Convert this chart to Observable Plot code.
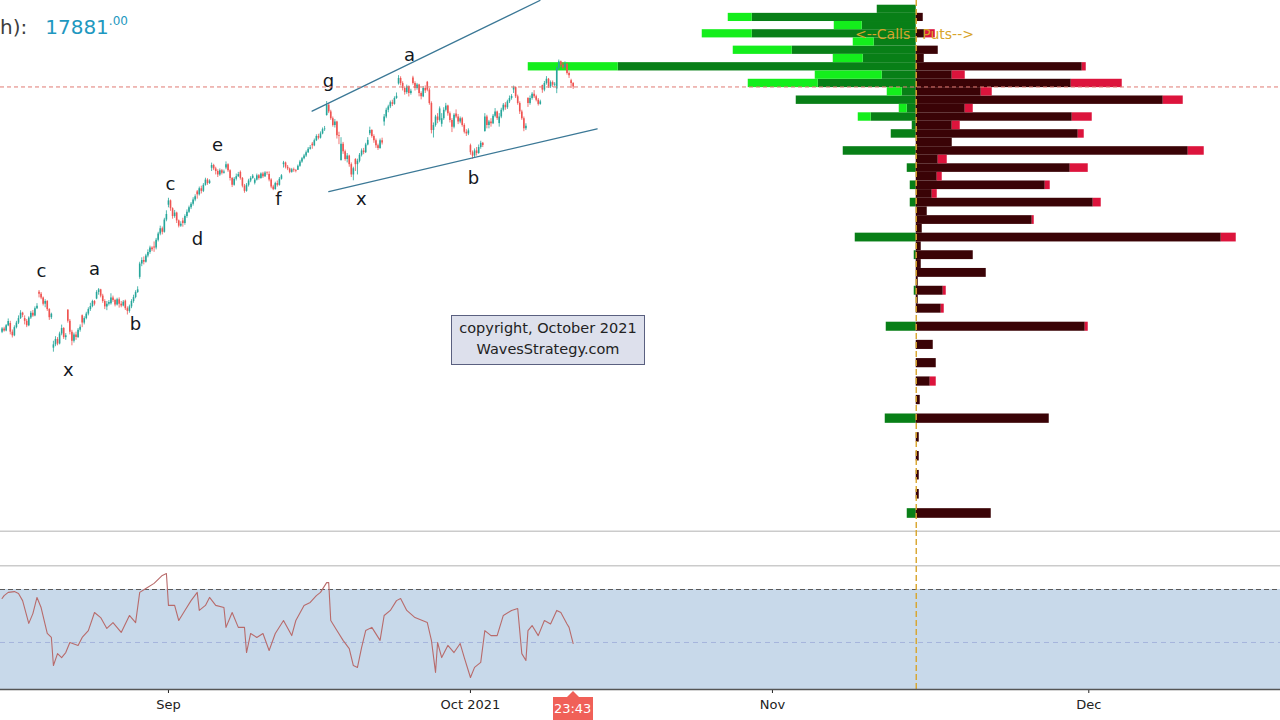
<!DOCTYPE html>
<html><head><meta charset="utf-8">
<script src="https://cdn.jsdelivr.net/npm/d3@7"></script>
<script src="https://cdn.jsdelivr.net/npm/@observablehq/plot@0.6"></script>
<style>
body{margin:0;background:#fff;font-family:"DejaVu Sans",Verdana,sans-serif;}
#wrap{position:relative;width:1280px;height:720px;overflow:hidden;background:#fff}
.layer{position:absolute;left:0}
#title{position:absolute;left:0;top:17px;font-size:20px;line-height:20px;color:#3d3d3d;white-space:nowrap}
#title .v{color:#1e98c0;margin-left:18px}
#title .s{color:#1e98c0;font-size:12px;position:relative;top:-9px}
#copy{position:absolute;left:451px;top:315px;width:192px;height:46px;background:#dde0ec;border:1px solid #5a6080;
 text-align:center;font-size:14.5px;line-height:21px;color:#222;padding-top:2px}
#clock{position:absolute;top:697px;width:40px;height:23px;background:#f06058;color:#fff;font-size:13px;line-height:23px;text-align:center}
#clock:before{content:"";position:absolute;left:14px;top:-6px;border-left:6px solid transparent;border-right:6px solid transparent;border-bottom:6px solid #f06058}
</style></head><body>
<div id="wrap">
 <div id="oi" class="layer" style="top:0"></div>
 <div id="price" class="layer" style="top:0"></div>
 <div id="rsi" class="layer" style="top:530px"></div>
 <div id="title"></div>
 <div id="copy">copyright, October 2021<br>WavesStrategy.com</div>
 <div id="clock"></div>
</div>
<script>
// ---------- data ----------
const titlePrefix = "h):";
const titleValue = 17881;
const clockText = "23:43";
// trading-day index relative to Oct 1 2021 (7 hourly bars per day)
const dayIndex = d3.range(-33, 8);
const firstHour = 3;
const dayOpens = [16470,16518,16545,16691,16382,16592,16561,16654,16627,16642,16775,16947,17185,17095,17262,17399,17401,17375,17312,17363,17420,17387,17540,17709,17443,17450,17601,17670,17897,17932,17907,17657,17718,17531,17615,17661,17861,17810,17887,17867,17916];
const dayCloses = [
[16488,16476,16505,16529],
[16470,16450,16495,16520,16545,16575,16563],
[16530,16505,16548,16575,16560,16600,16614],
[16680,16660,16625,16640,16595,16550,16569],
[16400,16430,16405,16460,16490,16440,16450],
[16530,16470,16420,16455,16440,16480,16497],
[16520,16545,16570,16595,16612,16640,16625],
[16690,16705,16670,16640,16610,16625,16634],
[16660,16645,16620,16650,16625,16615,16636],
[16600,16585,16610,16640,16662,16690,16705],
[16850,16870,16860,16895,16915,16940,16931],
[16940,16985,17020,17050,17030,17100,17132],
[17210,17165,17120,17140,17095,17065,17076],
[17080,17120,17145,17170,17190,17215,17234],
[17245,17280,17265,17300,17330,17310,17324],
[17415,17395,17380,17360,17385,17370,17377],
[17420,17385,17340,17300,17335,17350,17362],
[17340,17295,17265,17300,17325,17340,17353],
[17330,17355,17340,17365,17350,17372,17369],
[17330,17290,17275,17310,17300,17335,17355],
[17430,17405,17395,17375,17390,17385,17380],
[17410,17435,17455,17470,17490,17510,17519],
[17530,17560,17585,17575,17600,17625,17629],
[17770,17730,17690,17650,17670,17590,17585],
[17540,17495,17450,17470,17420,17360,17396],
[17420,17440,17475,17500,17490,17535,17562],
[17620,17585,17560,17530,17515,17560,17546],
[17700,17740,17760,17785,17775,17810,17823],
[17930,17900,17870,17845,17880,17840,17853],
[17900,17870,17890,17840,17820,17870,17855],
[17860,17780,17620,17650,17700,17680,17748],
[17690,17740,17765,17720,17680,17640,17711],
[17700,17670,17690,17650,17610,17600,17618],
[17490,17470,17500,17485,17520,17545,17532],
[17700,17650,17670,17660,17705,17730,17691],
[17700,17740,17770,17755,17790,17810,17822],
[17875,17820,17780,17730,17690,17630,17646],
[17780,17810,17835,17820,17800,17775,17790],
[17860,17900,17925,17880,17905,17890,17895],
[17990,18030,18010,17995,18015,17960,17946],
[17900,17879]];
const dayHighs = [
[16495,16497,16512,16543],
[16530,16482,16505,16530,16560,16589,16580],
[16560,16540,16555,16585,16590,16610,16628],
[16701,16690,16665,16650,16645,16600,16575],
[16420,16445,16440,16470,16509,16495,16462],
[16592,16540,16480,16465,16470,16490,16510],
[16565,16555,16580,16605,16630,16647,16645],
[16700,16712,16708,16680,16650,16640,16645],
[16683,16670,16652,16658,16660,16640,16645],
[16648,16610,16620,16650,16675,16700,16722],
[16860,16885,16890,16905,16930,16951,16948],
[16975,16995,17030,17065,17060,17110,17153],
[17225,17215,17170,17155,17145,17100,17090],
[17110,17130,17158,17180,17200,17228,17245],
[17270,17290,17295,17310,17341,17338,17332],
[17429,17422,17405,17390,17395,17392,17388],
[17436,17425,17390,17345,17345,17365,17375],
[17383,17345,17305,17310,17335,17350,17362],
[17340,17365,17362,17372,17375,17379,17378],
[17378,17338,17300,17318,17325,17345,17362],
[17439,17435,17415,17400,17398,17400,17392],
[17418,17445,17462,17480,17500,17520,17532],
[17550,17570,17595,17598,17612,17635,17644],
[17792,17780,17740,17700,17685,17675,17610],
[17578,17550,17505,17485,17475,17430,17405],
[17455,17452,17485,17512,17515,17545,17578],
[17640,17625,17595,17570,17540,17570,17575],
[17715,17752,17770,17795,17800,17820,17843],
[17947,17940,17910,17880,17890,17885,17865],
[17943,17910,17900,17895,17850,17880,17885],
[17912,17870,17790,17665,17710,17720,17760],
[17720,17755,17781,17770,17730,17690,17720],
[17742,17715,17700,17698,17660,17625,17630],
[17540,17500,17512,17520,17535,17557,17550],
[17720,17710,17680,17690,17715,17750,17735],
[17720,17752,17780,17785,17800,17825,17833],
[17884,17880,17830,17790,17740,17700,17660],
[17815,17825,17845,17857,17830,17810,17800],
[17890,17912,17941,17930,17915,17915,17905],
[18000,18041,18035,18025,18030,18020,17970],
[17925,17905]];
const dayLows = [
[16462,16470,16472,16500],
[16455,16438,16445,16488,16512,16540,16550],
[16510,16495,16500,16540,16552,16555,16595],
[16660,16650,16615,16605,16585,16535,16540],
[16360,16390,16395,16400,16450,16430,16425],
[16520,16455,16395,16410,16425,16435,16470],
[16495,16510,16538,16560,16585,16605,16615],
[16650,16675,16660,16630,16595,16589,16615],
[16620,16635,16610,16615,16603,16605,16610],
[16590,16565,16575,16600,16630,16655,16685],
[16764,16835,16845,16855,16885,16905,16920],
[16916,16930,16975,17010,17015,17025,17090],
[17170,17150,17105,17110,17080,17055,17058],
[17059,17070,17110,17138,17160,17180,17205],
[17220,17238,17250,17258,17295,17300,17305],
[17380,17385,17360,17345,17352,17360,17365],
[17390,17375,17325,17287,17295,17325,17345],
[17330,17285,17254,17260,17290,17315,17335],
[17302,17325,17330,17335,17340,17345,17358],
[17320,17280,17269,17272,17290,17295,17330],
[17400,17395,17385,17367,17370,17375,17372],
[17386,17405,17428,17448,17462,17485,17505],
[17510,17525,17555,17565,17570,17595,17615],
[17705,17720,17680,17640,17635,17570,17537],
[17443,17480,17440,17430,17405,17345,17326],
[17380,17360,17430,17465,17478,17485,17530],
[17590,17575,17545,17515,17503,17510,17535],
[17646,17690,17725,17750,17762,17770,17805],
[17890,17885,17855,17830,17835,17819,17830],
[17890,17855,17860,17820,17802,17815,17840],
[17850,17770,17600,17576,17640,17660,17670],
[17640,17680,17730,17705,17665,17608,17630],
[17690,17655,17660,17640,17600,17585,17590],
[17475,17452,17460,17470,17480,17510,17520],
[17610,17630,17630,17640,17655,17695,17680],
[17640,17690,17730,17740,17745,17780,17800],
[17840,17810,17770,17715,17680,17613,17620],
[17757,17770,17800,17810,17790,17765,17770],
[17841,17850,17890,17870,17870,17875,17880],
[17839,17980,17995,17985,17990,17950,17930],
[17870,17864]];

// RSI: bar index into the hourly series, value
const rsiBars = [0,1,3,6,8,10,13,15,17,19,22,24,25,27,29,31,33,37,39,42,45,48,51,54,58,62,65,67,70,74,78,80,81,84,86,89,92,95,96,99,101,104,108,109,112,115,118,119,121,124,127,130,133,137,141,143,147,150,153,155,158,159,160,163,166,169,171,173,175,177,180,184,186,189,192,194,197,201,207,209,211,212,214,217,220,223,225,228,230,233,235,238,241,244,248,251,253,255,256,258,261,264,267,270,272,275,276,278];
const rsiVals = [66.6,67.7,68.9,69.2,68.5,65.8,57.2,60.9,67.0,63.2,53.4,51.9,41.3,45.8,44.3,46.2,50.0,48.9,51.9,54.5,61.3,59.4,55.3,57.5,53.8,60.2,57.5,68.9,70.4,72.3,75.3,76.0,64.0,64.0,58.3,62.1,65.8,68.9,62.1,64.0,67.0,64.0,63.2,55.7,61.3,55.7,55.7,46.2,53.4,51.9,53.4,47.0,53.4,58.3,52.6,58.3,64.0,65.1,67.7,68.9,72.6,72.6,58.3,54.5,50.8,47.7,41.3,40.6,48.1,54.5,55.7,50.8,60.2,62.1,65.8,66.6,62.1,59.4,57.5,50.8,38.7,50.0,44.3,48.9,46.2,49.6,44.3,36.8,40.6,42.5,54.5,52.6,52.6,60.2,62.1,62.8,45.8,43.2,54.5,56.4,52.6,58.3,57.0,62.1,61.3,57.0,55.7,49.6];
const rsiUpper = 70, rsiMid = 50, rsiGuides = [92, 79];

// option chain (open interest, thousand contracts)
const strikes = [18350,18300,18250,18200,18150,18100,18050,18000,17950,17900,17850,17800,17750,17700,17650,17600,17550,17500,17450,17400,17350,17300,17250,17200,17150,17100,17050,17000,16950,16900,16850,16800,16750,16700,16650,16600,16500,16400,16300,16200,16100,16000,15900,15800,15700,15600,15500];
const callOI  = [78,328,108,328,84,248,106,596,68,196,28,240,18,90,8,50,0,146,0,18,0,12,0,12,0,0,0,122,0,4,0,0,0,4,0,0,60,0,0,0,0,62,0,0,0,0,18];
const callChg = [0,48,56,100,42,118,60,180,134,140,30,0,16,26,0,0,0,0,0,0,0,0,0,0,0,0,0,0,0,0,0,0,0,0,0,0,0,0,0,0,0,0,0,0,0,0,0];
const putOI   = [0,14,0,18,0,44,16,332,72,310,130,494,98,312,72,324,72,544,44,308,42,258,32,354,22,232,12,610,10,114,10,140,4,54,4,50,338,34,40,28,8,266,6,6,6,6,150];
const putChg  = [0,0,0,20,0,0,0,8,26,102,22,40,16,40,16,12,0,32,18,36,10,10,10,16,0,4,0,30,0,0,0,0,0,6,0,6,6,0,0,12,0,0,0,0,0,0,0];
const oiAnchorDay = 31;

// Elliott wave annotation (trading day, price)
const waveLabels = [
 {text:"c",t:-29.83,p:16811},{text:"a",t:-26.15,p:16822},{text:"x",t:-27.96,p:16260},{text:"b",t:-23.30,p:16514},
 {text:"c",t:-20.86,p:17305},{text:"d",t:-18.98,p:16993},{text:"e",t:-17.59,p:17533},{text:"f",t:-13.35,p:17218},
 {text:"g",t:-9.87,p:17915},{text:"a",t:-4.24,p:18067},{text:"x",t:-7.58,p:17218},{text:"b",t:0.21,p:17340}];
const trendUpper = [{t:-11.01,p:17735},{t:4.83,p:18404}];
const trendLower = [{t:-9.85,p:17264},{t:8.81,p:17630}];

const tickDays = [-21, 0, 21, 43];
const tickLabels = ["Sep", "Oct 2021", "Nov", "Dec"];

const xDomain = [-32.68, 56.33];
const yDomain = [15412, 18404];
const rsiDomain = [32.26, 92.26];

// ---------- build ----------
const bars = [];
dayIndex.forEach((d, k) => {
  const cs = dayCloses[k], hs = dayHighs[k], ls = dayLows[k];
  const h0 = k === 0 ? firstHour : 0;
  cs.forEach((c, j) => {
    const o = j === 0 ? dayOpens[k] : cs[j - 1];
    bars.push({t: d + (h0 + j) / 7, o, c, h: Math.max(hs[j], o, c), l: Math.min(ls[j], o, c)});
  });
});
const upBars = bars.filter(b => b.c >= b.o), downBars = bars.filter(b => b.c < b.o);
const last = bars[bars.length - 1];
const rsiPts = rsiBars.map((b, i) => ({t: bars[b].t, v: rsiVals[i]}));
const rows = strikes.map((s, i) => ({s, c: callOI[i], cc: callChg[i], p: putOI[i], pc: putChg[i]}));

const UP = "#26a69a", DOWN = "#ef5350", GOLD = "#d8a42a";

const pricePlot = Plot.plot({
  width: 1280, height: 530, marginTop: 0, marginBottom: 0, marginLeft: 0, marginRight: 0,
  style: {background: "transparent", fontFamily: "DejaVu Sans, sans-serif", overflow: "visible"},
  x: {domain: xDomain, axis: null},
  y: {type: "log", domain: yDomain, axis: null},
  marks: [
    Plot.ruleX(upBars, {x: "t", y1: "l", y2: "h", stroke: UP, strokeWidth: 0.8}),
    Plot.ruleX(downBars, {x: "t", y1: "l", y2: "h", stroke: DOWN, strokeWidth: 0.8}),
    Plot.ruleX(upBars, {x: "t", y1: "o", y2: "c", stroke: UP, strokeWidth: 1.6}),
    Plot.ruleX(downBars, {x: "t", y1: "o", y2: "c", stroke: DOWN, strokeWidth: 1.6}),
    Plot.line(trendUpper, {x: "t", y: "p", stroke: "#3b7896", strokeWidth: 1.3}),
    Plot.line(trendLower, {x: "t", y: "p", stroke: "#3b7896", strokeWidth: 1.3}),
    Plot.text(waveLabels, {x: "t", y: "p", text: "text", fontSize: 18, fill: "#131722"}),
    Plot.ruleY([last.c], {stroke: "#e07a72", strokeDasharray: "4,3", strokeWidth: 1}),
    Plot.ruleX([oiAnchorDay], {stroke: GOLD, strokeDasharray: "6,3", strokeWidth: 1.4}),
    Plot.text(["<--Calls"], {x: oiAnchorDay, frameAnchor: "top", lineAnchor: "middle", dy: 34, dx: -6, textAnchor: "end", fill: GOLD, fontSize: 14}),
    Plot.text(["Puts-->"], {x: oiAnchorDay, frameAnchor: "top", lineAnchor: "middle", dy: 34, dx: 6, textAnchor: "start", fill: GOLD, fontSize: 14})
  ]
});

const anchorPx = pricePlot.scale("x").apply(oiAnchorDay);
const pxPerUnit = 0.5;
const oiPlot = Plot.plot({
  width: 1280, height: 530, marginTop: 0, marginBottom: 0, marginLeft: 0, marginRight: 0,
  style: {background: "#fff"},
  x: {domain: [-anchorPx / pxPerUnit, (1280 - anchorPx) / pxPerUnit], axis: null},
  y: {type: "log", domain: yDomain, axis: null},
  marks: [
    Plot.rectX(rows, {x1: d => -d.c, x2: 0, y1: d => d.s - 25, y2: d => d.s + 25, fill: "#087f17"}),
    Plot.rectX(rows, {x1: d => -(d.c + d.cc), x2: d => -d.c, y1: d => d.s - 25, y2: d => d.s + 25, fill: "#14ee1c"}),
    Plot.rectX(rows, {x1: 0, x2: d => d.p, y1: d => d.s - 25, y2: d => d.s + 25, fill: "#3a0306"}),
    Plot.rectX(rows, {x1: d => d.p, x2: d => d.p + d.pc, y1: d => d.s - 25, y2: d => d.s + 25, fill: "#dc143c"})
  ]
});

const labelOf = new Map(tickDays.map((d, i) => [d, tickLabels[i]]));
const rsiPlot = Plot.plot({
  width: 1280, height: 190, marginTop: 0, marginBottom: 31, marginLeft: 0, marginRight: 0,
  style: {background: "transparent", fontFamily: "DejaVu Sans, sans-serif", fontSize: "13px", color: "#222", overflow: "visible"},
  x: {domain: xDomain, ticks: tickDays, tickFormat: d => labelOf.get(d), tickSize: 4, tickPadding: 6, label: null},
  y: {domain: rsiDomain, axis: null},
  marks: [
    Plot.rect([0], {x1: xDomain[0], x2: xDomain[1], y1: rsiDomain[0], y2: rsiUpper, fill: "#c8d9ea"}),
    Plot.ruleY(rsiGuides, {stroke: "#cbcbcb", strokeWidth: 1.5}),
    Plot.ruleY([rsiUpper], {stroke: "#5a5a5a", strokeDasharray: "5,3", strokeWidth: 1.2}),
    Plot.ruleY([rsiMid], {stroke: "#a5b5dc", strokeDasharray: "5,4", strokeWidth: 1}),
    Plot.line(rsiPts, {x: "t", y: "v", stroke: "#b86b6b", strokeWidth: 1.1}),
    Plot.ruleX([oiAnchorDay], {stroke: GOLD, strokeDasharray: "6,3", strokeWidth: 1.4}),
    Plot.ruleY([rsiDomain[0]], {stroke: "#555", strokeWidth: 1.5})
  ]
});

document.getElementById("oi").appendChild(oiPlot);
document.getElementById("price").appendChild(pricePlot);
document.getElementById("rsi").appendChild(rsiPlot);

const title = document.getElementById("title");
title.innerHTML = "";
title.append(titlePrefix);
const v = document.createElement("span"); v.className = "v"; v.textContent = String(Math.floor(titleValue)); title.append(v);
const s = document.createElement("span"); s.className = "s"; s.textContent = "." + (titleValue % 1).toFixed(2).slice(2); title.append(s);

const clock = document.getElementById("clock");
clock.textContent = clockText;
clock.style.left = (rsiPlot.scale("x").apply(last.t) - 20) + "px";
</script>
</body></html>
